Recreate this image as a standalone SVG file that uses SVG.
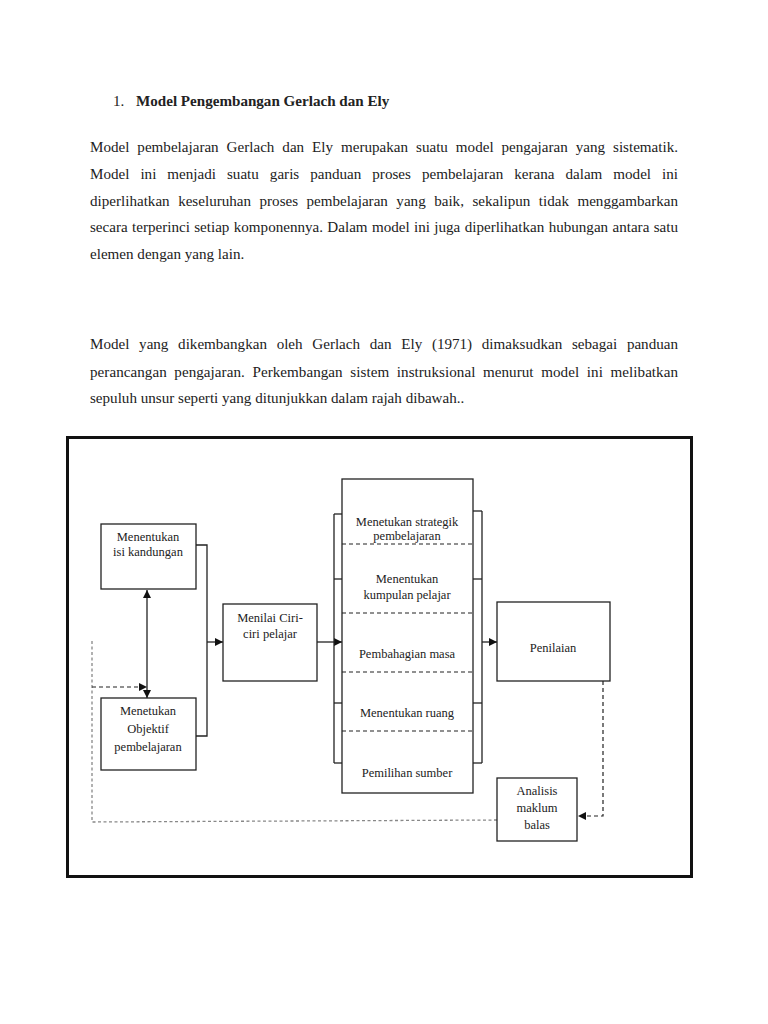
<svg xmlns="http://www.w3.org/2000/svg" width="768" height="1024" viewBox="0 0 768 1024">
<defs>
<style>
.body{font-family:"Liberation Serif","Times New Roman",serif;font-size:15.1px;fill:#222}
.lbl{font-family:"Liberation Serif","Times New Roman",serif;font-size:12.5px;fill:#222;text-anchor:middle}
.box{fill:#fff;stroke:#222;stroke-width:1.3}
.ln{fill:none;stroke:#222;stroke-width:1.3}
.dash{fill:none;stroke:#222;stroke-width:1.2;stroke-dasharray:4,3}
.gdash{fill:none;stroke:#888;stroke-width:1.3;stroke-dasharray:3,2.5}
</style>
<marker id="ah" viewBox="0 0 10 10" refX="10" refY="5" markerWidth="8" markerHeight="8" markerUnits="userSpaceOnUse" orient="auto-start-reverse">
<path d="M0,0 L10,5 L0,10 z" fill="#111"/>
</marker>
</defs>
<rect width="768" height="1024" fill="#fff"/>
<g id="text">
<text class="body" x="113" y="106">1.</text>
<text class="body" x="136" y="106" font-weight="bold">Model Pengembangan Gerlach dan Ely</text>
<text class="body" x="90" y="152" word-spacing="4.2" textLength="588" lengthAdjust="spacing">Model pembelajaran Gerlach dan Ely merupakan suatu model pengajaran yang sistematik.</text>
<text class="body" x="90" y="179" word-spacing="7.2" textLength="588" lengthAdjust="spacing">Model ini menjadi suatu garis panduan proses pembelajaran kerana dalam model ini</text>
<text class="body" x="90" y="206" word-spacing="4.7" textLength="588" lengthAdjust="spacing">diperlihatkan keseluruhan proses pembelajaran yang baik, sekalipun tidak menggambarkan</text>
<text class="body" x="90" y="232" word-spacing="0.6" textLength="588" lengthAdjust="spacing">secara terperinci setiap komponennya. Dalam model ini juga diperlihatkan hubungan antara satu</text>
<text class="body" x="90" y="259">elemen dengan yang lain.</text>
<text class="body" x="90" y="349" word-spacing="5.9" textLength="588" lengthAdjust="spacing">Model yang dikembangkan oleh Gerlach dan Ely (1971) dimaksudkan sebagai panduan</text>
<text class="body" x="90" y="377" word-spacing="3.8" textLength="588" lengthAdjust="spacing">perancangan pengajaran. Perkembangan sistem instruksional menurut model ini melibatkan</text>
<text class="body" x="90" y="403">sepuluh unsur seperti yang ditunjukkan dalam rajah dibawah..</text>
</g>
<rect id="frame" x="67.5" y="437.5" width="624" height="439" fill="none" stroke="#111" stroke-width="3"/>
<g id="connectors">
<polyline class="ln" points="196,545 207,545 207,736 196,736"/>
<line class="ln" x1="207" y1="642" x2="223" y2="642" marker-end="url(#ah)"/>
<line class="ln" x1="317" y1="642" x2="342" y2="642" marker-end="url(#ah)"/>
<line class="ln" x1="334" y1="514" x2="334" y2="763"/>
<line class="ln" x1="334" y1="514" x2="342" y2="514"/>
<line class="ln" x1="334" y1="579" x2="342" y2="579"/>
<line class="ln" x1="334" y1="703" x2="342" y2="703"/>
<line class="ln" x1="334" y1="763" x2="342" y2="763"/>
<line class="ln" x1="482" y1="511" x2="482" y2="763"/>
<line class="ln" x1="473" y1="511" x2="482" y2="511"/>
<line class="ln" x1="473" y1="579" x2="482" y2="579"/>
<line class="ln" x1="473" y1="703" x2="482" y2="703"/>
<line class="ln" x1="473" y1="763" x2="482" y2="763"/>
<line class="ln" x1="482" y1="642" x2="497" y2="642" marker-end="url(#ah)"/>
<line class="ln" x1="147" y1="590" x2="147" y2="698" marker-start="url(#ah)" marker-end="url(#ah)"/>
<polyline class="dash" points="603,681 603,816 578,816" marker-end="url(#ah)"/>
<polyline class="gdash" points="497,820 92,822 92,640"/>
<line class="dash" x1="92" y1="687" x2="147" y2="687" marker-end="url(#ah)"/>
</g>
<g id="isi">
<rect class="box" x="101" y="524" width="95" height="65"/>
<text class="lbl" x="148" y="541">Menentukan</text>
<text class="lbl" x="148" y="556">isi kandungan</text>
</g>
<g id="objektif">
<rect class="box" x="101" y="698" width="95" height="72"/>
<text class="lbl" x="148" y="715">Menetukan</text>
<text class="lbl" x="148" y="733">Objektif</text>
<text class="lbl" x="148" y="751">pembelajaran</text>
</g>
<g id="menilai">
<rect class="box" x="223" y="604" width="94" height="77"/>
<text class="lbl" x="270" y="622">Menilai Ciri-</text>
<text class="lbl" x="270" y="638">ciri pelajar</text>
</g>
<g id="middle">
<rect class="box" x="342" y="479" width="131" height="314"/>
<line class="dash" x1="342" y1="544" x2="473" y2="544"/>
<line class="dash" x1="342" y1="613" x2="473" y2="613"/>
<line class="dash" x1="342" y1="672" x2="473" y2="672"/>
<line class="dash" x1="342" y1="731" x2="473" y2="731"/>
<text class="lbl" x="407" y="526">Menetukan strategik</text>
<text class="lbl" x="407" y="540">pembelajaran</text>
<text class="lbl" x="407" y="583">Menentukan</text>
<text class="lbl" x="407" y="599">kumpulan pelajar</text>
<text class="lbl" x="407" y="658">Pembahagian masa</text>
<text class="lbl" x="407" y="717">Menentukan ruang</text>
<text class="lbl" x="407" y="777">Pemilihan sumber</text>
</g>
<g id="penilaian">
<rect class="box" x="497" y="602" width="113" height="79"/>
<text class="lbl" x="553" y="652">Penilaian</text>
</g>
<g id="analisis">
<rect class="box" x="497" y="778" width="80" height="63"/>
<text class="lbl" x="537" y="795">Analisis</text>
<text class="lbl" x="537" y="812">maklum</text>
<text class="lbl" x="537" y="829">balas</text>
</g>
</svg>
